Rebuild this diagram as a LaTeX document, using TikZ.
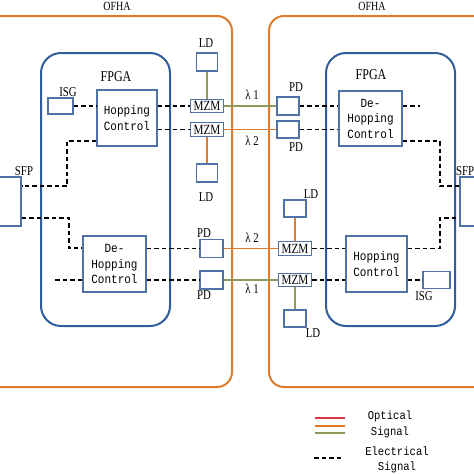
\documentclass[tikz,border=0pt]{standalone}
\usepackage{fontspec}
\setmainfont{Liberation Serif}
\newfontfamily\monofam[FakeStretch=0.88]{Liberation Mono}
\newfontfamily\lblfam[FakeStretch=0.8]{Liberation Serif}
\usetikzlibrary{calc}

\definecolor{ofhaorange}{HTML}{E07B2B}
\definecolor{fpgablue}{HTML}{2F5D9B}
\definecolor{boxblue}{HTML}{4F73A6}
\definecolor{optgreen}{HTML}{8C9A5B}
\definecolor{optred}{HTML}{D9363E}

\tikzset{
  ofha/.style={draw=ofhaorange, line width=2pt, rounded corners=15pt},
  fpga/.style={draw=fpgablue, line width=2pt, rounded corners=20pt},
  smallbox/.style={draw=boxblue, line width=1.4pt, fill=white, inner sep=0pt},
  ctrlbox/.style={smallbox, align=center, font=\monofam\fontsize{12.5}{15.5}\selectfont},
  mzmbox/.style={smallbox, minimum width=33pt, minimum height=13.5pt, font=\lblfam\fontsize{14}{14}\selectfont},
  lbl/.style={font=\lblfam\fontsize{13.5}{14}\selectfont, inner sep=0pt},
  biglbl/.style={font=\lblfam\fontsize{15}{16}\selectfont, inner sep=0pt},
  elec/.style={black, line width=1.9pt, dash pattern=on 4.5pt off 3pt},
  orangeline/.style={ofhaorange, line width=1.6pt},
  greenline/.style={optgreen, line width=1.6pt}
}

\begin{document}
\begin{tikzpicture}[x=1pt, y=-1pt]
  \useasboundingbox (0,0) rectangle (474,474);
  \clip (0,0) rectangle (474,474);

  % outer units
  \draw[ofha] (-20,16) rectangle (232,387);
  \draw[ofha] (269,16) rectangle (500,387);
  \node[lbl, font=\lblfam\fontsize{12.5}{13}\selectfont] at (117,6) {OFHA};
  \node[lbl, font=\lblfam\fontsize{12.5}{13}\selectfont] at (372,6) {OFHA};

  % fpga blocks
  \draw[fpga] (41,53) rectangle (170,326);
  \draw[fpga] (326,53) rectangle (455,326);
  \node[biglbl] at (116,77) {FPGA};
  \node[biglbl] at (371,75) {FPGA};

  % left unit
  \node[smallbox, minimum width=31pt, minimum height=49pt] (SFPl) at (5.5,201.5) {};
  \node[lbl] at (24,171) {SFP};
  \node[smallbox, minimum width=25pt, minimum height=16pt] (ISGl) at (60.5,106) {};
  \node[lbl] at (68,92) {ISG};
  \node[ctrlbox, minimum width=60pt, minimum height=56pt] (HCl) at (127,118) {Hopping\\Control};
  \node[ctrlbox, minimum width=63pt, minimum height=56pt] (DHl) at (114.5,264) {De-\\Hopping\\Control};
  \node[mzmbox] (MZMa) at (207,106) {MZM};
  \node[mzmbox] (MZMb) at (207,129.5) {MZM};
  \node[smallbox, minimum width=21pt, minimum height=18pt] (LDa) at (207,62) {};
  \node[lbl] at (206,43) {LD};
  \node[smallbox, minimum width=21pt, minimum height=18pt] (LDb) at (207,173) {};
  \node[lbl] at (206,197) {LD};
  \node[smallbox, minimum width=23pt, minimum height=18pt] (PDa) at (211.5,248.5) {};
  \node[lbl] at (204,233) {PD};
  \node[smallbox, minimum width=23pt, minimum height=18pt] (PDb) at (211.5,280) {};
  \node[lbl] at (204,295) {PD};

  % right unit
  \node[smallbox, minimum width=30pt, minimum height=49pt] (SFPr) at (475,201.5) {};
  \node[lbl, anchor=west] at (456,171) {SFP};
  \node[smallbox, minimum width=22pt, minimum height=18pt] (PDc) at (288,106) {};
  \node[lbl] at (296,87) {PD};
  \node[smallbox, minimum width=22pt, minimum height=17pt] (PDd) at (288,129.5) {};
  \node[lbl] at (296,147) {PD};
  \node[ctrlbox, minimum width=63pt, minimum height=55pt] (DHr) at (370.5,118.5) {De-\\Hopping\\Control};
  \node[ctrlbox, minimum width=61pt, minimum height=56pt] (HCr) at (376.5,264) {Hopping\\Control};
  \node[mzmbox] (MZMc) at (295,248.5) {MZM};
  \node[mzmbox] (MZMd) at (295,280) {MZM};
  \node[smallbox, minimum width=22pt, minimum height=17pt] (LDc) at (295,208.5) {};
  \node[lbl] at (311,194) {LD};
  \node[smallbox, minimum width=22pt, minimum height=17pt] (LDd) at (295,318.5) {};
  \node[lbl] at (313,333) {LD};
  \node[smallbox, minimum width=27pt, minimum height=17pt] (ISGr) at (436.5,280) {};
  \node[lbl] at (424,296) {ISG};

  % wavelengths
  \node[lbl] at (252,95) {λ 1};
  \node[lbl] at (252,141) {λ 2};
  \node[lbl] at (252,238) {λ 2};
  \node[lbl] at (252,289) {λ 1};

  % optical links
  \draw[greenline] (LDa) -- (MZMa);
  \draw[orangeline] (LDb) -- (MZMb);
  \draw[greenline] (MZMa.east) -- (PDc.west);
  \draw[orangeline] (MZMb.east) -- (PDd.west);
  \draw[orangeline] (LDc) -- (MZMc);
  \draw[greenline] (LDd) -- (MZMd);
  \draw[orangeline] (PDa.east) -- (MZMc.west);
  \draw[greenline] (PDb.east) -- (MZMd.west);

  % electrical links, left
  \draw[elec] (ISGl.east) -- (HCl.west |- ISGl.east);
  \draw[elec] (HCl.east |- MZMa.west) -- (MZMa.west);
  \draw[elec] (HCl.east |- MZMb.west) -- (MZMb.west);
  \draw[elec] ([yshift=6pt]HCl.south west) -- ++(-29,0) |- ([yshift=-10pt]SFPl.north east);
  \draw[elec] ([yshift=9pt]SFPl.south east) -| ($(SFPl.south east)+(47,0)$) |- ([yshift=-13pt]DHl.north west);
  \draw[elec] (DHl.east |- PDa.west) -- (PDa.west);
  \draw[elec] (DHl.east |- PDb.west) -- (PDb.west);
  \draw[elec] (DHl.west |- PDb.west) -- ++(-29,0);

  % electrical links, right
  \draw[elec] (PDc.east) -- (DHr.west |- PDc.east);
  \draw[elec] (PDd.east) -- (DHr.west |- PDd.east);
  \draw[elec] (DHr.east |- PDc.east) -- ++(17,0);
  \draw[elec] ([yshift=6pt]DHr.south east) -- ++(37,0) |- ([yshift=-10pt]SFPr.north west);
  \draw[elec] (MZMc.east) -- (HCr.west |- MZMc.east);
  \draw[elec] (MZMd.east) -- (HCr.west |- MZMd.east);
  \draw[elec] (HCr.east |- MZMc.east) -- ++(32,0) |- ([yshift=9pt]SFPr.south west);
  \draw[elec] (HCr.east |- ISGr.west) -- (ISGr.west);

  % legend
  \coordinate (lgRa) at (315,418);   \coordinate (lgRb) at (345,418);
  \coordinate (lgOa) at (315,426);   \coordinate (lgOb) at (345,426);
  \coordinate (lgGa) at (315,433);   \coordinate (lgGb) at (345,433);
  \coordinate (lgEa) at (314,458);   \coordinate (lgEb) at (344,458);
  \draw[optred, line width=1.6pt] (lgRa) -- (lgRb);
  \draw[orangeline] (lgOa) -- (lgOb);
  \draw[greenline] (lgGa) -- (lgGb);
  \draw[elec] (lgEa) -- (lgEb);
  \node[align=center, inner sep=0pt, font=\monofam\fontsize{12}{16}\selectfont] (lgOpt) at (390,424) {Optical\\Signal};
  \node[align=center, inner sep=0pt, font=\monofam\fontsize{12}{15}\selectfont] (lgEl) at (397,460) {Electrical\\Signal};
\end{tikzpicture}
\end{document}
